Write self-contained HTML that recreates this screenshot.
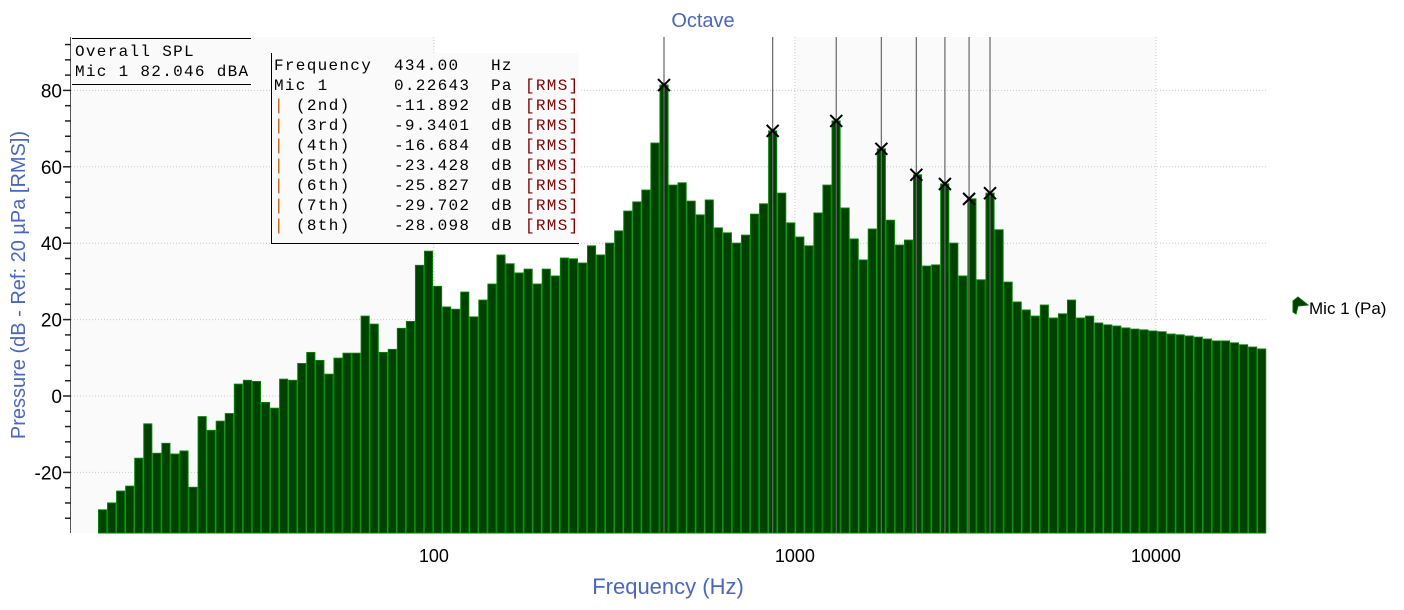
<!DOCTYPE html>
<html><head><meta charset="utf-8"><style>
html,body{margin:0;padding:0;background:#fff;}
svg{display:block;}
.mono{font-family:"Liberation Mono",monospace;font-size:16px;letter-spacing:1.3px;}
</style></head><body>
<svg id="chart" width="1404" height="610" xmlns="http://www.w3.org/2000/svg">
  <g id="bg"></g>
  <g id="grid"></g>
  <g id="bars"></g>
  <g id="harm"></g>
  <g id="axes"></g>
  <text x="703" y="27" text-anchor="middle" font-family="Liberation Sans, sans-serif" font-size="20" fill="#4a67c0">Octave</text>
  <text x="668" y="594" text-anchor="middle" font-family="Liberation Sans, sans-serif" font-size="22" fill="#4a67c0">Frequency (Hz)</text>
  <text transform="translate(25,285) rotate(-90)" text-anchor="middle" font-family="Liberation Sans, sans-serif" font-size="20" fill="#4a67c0">Pressure (dB - Ref: 20 µPa [RMS])</text>
  <g>
    <rect x="72" y="38" width="179" height="46" fill="#fafafa"/>
    <line x1="72" y1="38.5" x2="251" y2="38.5" stroke="#000"/>
    <line x1="72" y1="84.5" x2="251" y2="84.5" stroke="#000"/>
    <text class="mono" x="75" y="56">Overall SPL</text>
    <text class="mono" x="75" y="76">Mic 1 82.046 dBA</text>
  </g>
  <g>
    <rect x="271" y="53" width="308" height="191" fill="#fafafa"/>
    <line x1="271.5" y1="53" x2="271.5" y2="244" stroke="#000"/>
    <line x1="271" y1="243.5" x2="579" y2="243.5" stroke="#000"/>
    <g id="readout"></g>
  </g>
  <g>
    <path d="M1293 312 L1293 301 L1298 297 L1308 305 L1298 306 L1296 314 Z" fill="#004000" stroke="#007000" stroke-width="1"/>
    <text x="1309" y="314" font-family="Liberation Sans, sans-serif" font-size="17" fill="#000">Mic 1 (Pa)</text>
  </g>
</svg>
<script>
const bandValues = [-29.8,-28,-24.9,-23.6,-16.3,-7.3,-15,-12.4,-15.2,-14.4,
-23.9,-5.4,-9,-6.6,-4.6,3.1,4.1,3.8,-1.7,-3.2,
4.4,4.1,8.5,11.4,9.3,5.7,9.9,11.2,11.2,20.9,
18.8,11.4,12.2,17.7,19.5,34.2,37.9,28.7,23.3,22.7,
27.2,20.7,25.1,29.3,36.9,34.6,32.2,33.2,29.3,33.2,
31.4,36.1,35.9,34.8,39.3,36.9,40,43.2,48.4,50.8,
53.9,66.2,81.4,55.2,55.8,51,47.4,51.3,44,42.7,
40,42.1,47.6,50.3,69.4,53.1,45.3,41.6,39.3,47.9,
55.2,72,49.2,41.1,35.6,43.7,64.7,46,39.5,40.8,
57.9,34,34.3,55.5,40,31.4,51.6,30.4,53.1,43.5,
29.8,24.6,22.5,20.9,23.8,20.4,21.5,25.1,20.4,20.9,
19.1,18.6,18.3,17.8,17.5,17.3,17,16.8,16.2,16,
15.7,15.4,14.9,14.4,14.4,13.9,13.4,12.8,12.3];
const fundamental = 434;
const peakBandIndex = 62;
const harmonicOrders = [1,2,3,4,5,6,7,8];
const yTicks = [-20,0,20,40,60,80];
const xTicks = [100,1000,10000];
const readoutLabels = ["(2nd)","(3rd)","(4th)","(5th)","(6th)","(7th)","(8th)"];
const readoutValues = ["-11.892","-9.3401","-16.684","-23.428","-25.827","-29.702","-28.098"];

const NS="http://www.w3.org/2000/svg";
const PX_DEC=361, X0=664, BOT=533, TOP=37, LEFT=71, RIGHT=1266;
function xs(f){return X0+PX_DEC*Math.log10(f/fundamental);}
function ys(v){return 396-v*3.82;}
function mk(tag,attrs,parent){const e=document.createElementNS(NS,tag);for(const k in attrs)e.setAttribute(k,attrs[k]);parent.appendChild(e);return e;}
const bandCenter=i=>fundamental*Math.pow(2,(i-peakBandIndex)/12);
const bw=PX_DEC*Math.log10(2)/12;

const bg=document.getElementById('bg');
const dec=[[LEFT,xs(100),'#fafafa'],[xs(100),xs(1000),'#ffffff'],[xs(1000),xs(10000),'#fafafa'],[xs(10000),RIGHT,'#ffffff']];
dec.forEach(d=>{const r=mk('rect',{x:d[0],y:TOP,width:d[1]-d[0],height:BOT-TOP,fill:d[2]},bg);

});

const grid=document.getElementById('grid');
yTicks.forEach(v=>{const l=mk('line',{x1:LEFT,x2:RIGHT,y1:ys(v),y2:ys(v),stroke:'#c8c8c8','stroke-dasharray':'1 2'},grid);

});
xTicks.forEach(f=>{const l=mk('line',{x1:xs(f),x2:xs(f),y1:TOP,y2:BOT,stroke:'#c8c8c8','stroke-dasharray':'1 2'},grid);

});

const bars=document.getElementById('bars');
bandValues.forEach((v,i)=>{const xc=xs(bandCenter(i));const y=ys(v);
const r=mk('rect',{x:xc-bw/2+0.5,y:y,width:bw-1,height:BOT-y,fill:'#004000',stroke:'#008000','stroke-width':1},bars);

});

const harm=document.getElementById('harm');
harmonicOrders.forEach(n=>{const f=n*fundamental;const x=xs(f);
const l=mk('line',{x1:x,x2:x,y1:TOP,y2:BOT,stroke:'#666','stroke-width':1.2},harm);


const idx=Math.round(peakBandIndex+12*Math.log2(n));
const y=ys(bandValues[Math.min(idx,bandValues.length-1)]);
const p=mk('path',{d:`M${x-6} ${y-6} L${x+6} ${y+6} M${x+6} ${y-6} L${x-6} ${y+6}`,stroke:'#000','stroke-width':2},harm);

});

const ax=document.getElementById('axes');
const yl=mk('line',{x1:LEFT-0.5,x2:LEFT-0.5,y1:TOP,y2:BOT,stroke:'#555'},ax);


for(let v=-32;v<=92;v+=4){const y=ys(v);const major=(v%20===0);
const t=mk('line',{x1:LEFT-(major?8:6),x2:LEFT,y1:y,y2:y,stroke:'#222','stroke-width':1.5},ax);

}
yTicks.forEach(v=>{const t=mk('text',{x:LEFT-9,y:ys(v)+7,'text-anchor':'end','font-family':'Liberation Sans, sans-serif','font-size':19,fill:'#000'},ax);t.textContent=v;

});
xTicks.forEach(f=>{const t=mk('text',{x:xs(f),y:562,'text-anchor':'middle','font-family':'Liberation Sans, sans-serif','font-size':18,fill:'#000'},ax);t.textContent=f;

});

const ro=document.getElementById('readout');
function txt(x,y,s,fill){const t=mk('text',{x:x,y:y,class:'mono',fill:fill||'#000'},ro);t.textContent=s;return t;}
let t;
t=txt(274,70,'Frequency');
t=txt(394,70,'434.00');
t=txt(491,70,'Hz');
t=txt(274,90,'Mic 1');
t=txt(394,90,'0.22643');
t=txt(491,90,'Pa');
t=txt(525,90,'[RMS]','#800000');
readoutLabels.forEach((lab,i)=>{const y=110+i*20;
let a=txt(274,y,'|','#c05a00');
a=txt(296,y,lab);
a=txt(394,y,readoutValues[i]);
a=txt(491,y,'dB');
a=txt(525,y,'[RMS]','#800000');});
</script>
</body></html>
